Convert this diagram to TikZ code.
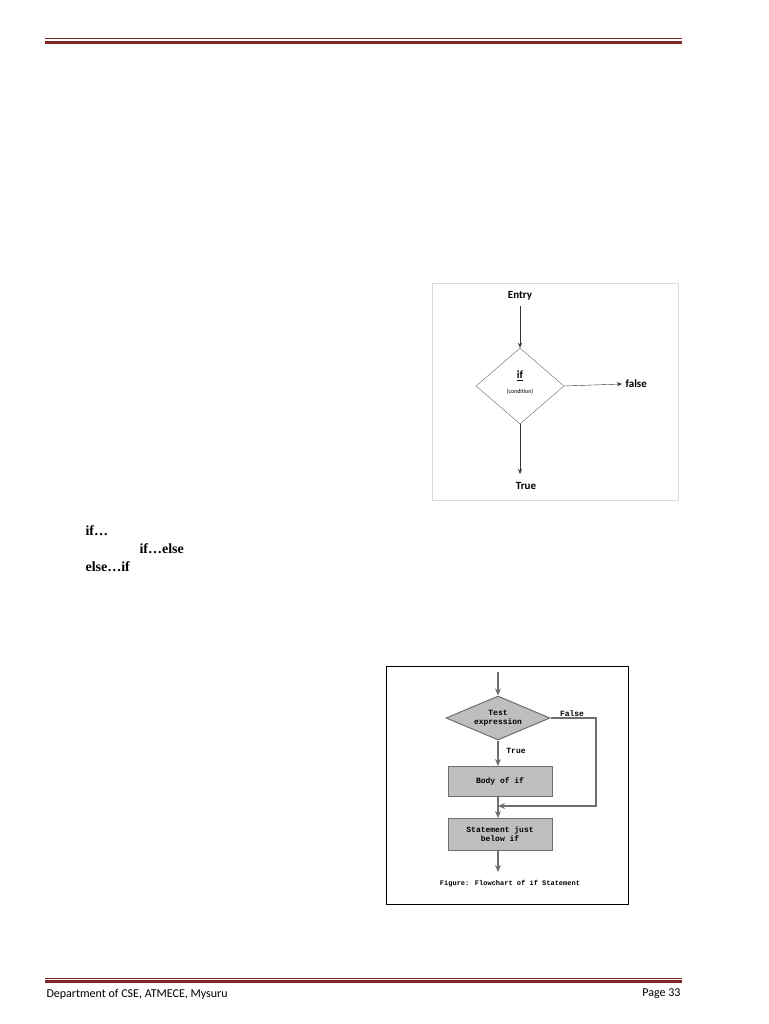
\documentclass[tikz,border=0pt]{standalone}
\usepackage{fontspec}
\setmainfont{Liberation Serif}
\newfontfamily\calfont{Carlito}
\newfontfamily\monofnt{Liberation Mono}
\usetikzlibrary{shapes.geometric,arrows.meta}
\definecolor{rulered}{RGB}{125,40,40}
\definecolor{boxgray}{RGB}{190,190,190}
\definecolor{lgray}{RGB}{110,110,110}
\begin{document}
\begin{tikzpicture}[x=1pt,y=-1pt,
  arr/.style={-{Stealth[length=5pt,width=4pt]},black!80},
  garr/.style={-{Stealth[length=7pt,width=6pt]},lgray,line width=1.2pt},
  gbox/.style={draw=lgray,fill=boxgray,line width=1pt,minimum width=104pt,font=\monofnt\bfseries\fontsize{8}{9}\selectfont,align=center,inner sep=1pt}]
\useasboundingbox (0,0) rectangle (768,1024);
% header rule
\draw[rulered,line width=1pt] (45,39) -- (682,39);
\draw[rulered,line width=2.5pt] (45,42.5) -- (682,42.5);
% footer rule
\draw[rulered,line width=1pt] (45,978) -- (682,978);
\draw[rulered,line width=2.5pt] (45,981.5) -- (682,981.5);
\node[anchor=west,font=\calfont\fontsize{12}{14}\selectfont] (dep) at (43,994) {Department of CSE, ATMECE, Mysuru};
\node[anchor=east,font=\calfont\fontsize{12}{14}\selectfont] (pg) at (684,994) {Page 33};
% list text
\node[anchor=west,font=\bfseries\fontsize{14}{16}\selectfont] (t1) at (82,531) {if…};
\node[anchor=west,font=\bfseries\fontsize{14}{16}\selectfont] (t2) at (136,549) {if…else};
\node[anchor=west,font=\bfseries\fontsize{14}{16}\selectfont] (t3) at (82,567) {else…if};
% flowchart 1
\draw[black!15,line width=1pt] (432,283) rectangle (678,500);
\node[font=\calfont\bfseries\fontsize{11}{13}\selectfont] (entry) at (520,296) {Entry};
\node[diamond,draw=black!60,minimum width=88pt,minimum height=76pt,inner sep=0pt] (d1) at (520,386) {};
\node[font=\calfont\bfseries\fontsize{11}{13}\selectfont] (ifl) at (520,376) {\underline{if}};
\node[font=\calfont\fontsize{6}{7}\selectfont] (cond) at (520,392) {(condition)};
\node[font=\calfont\bfseries\fontsize{11}{13}\selectfont,anchor=west] (false) at (622,384) {false};
\node[font=\calfont\bfseries\fontsize{11}{13}\selectfont] (true) at (526,486) {True};
\coordinate (tr) at (520,474);
\draw[arr] (entry) ++(0,10) -- (d1.north);
\draw[arr] (d1.east) -- (false.west);
\draw[arr] (d1.south) -- (tr);
% flowchart 2
\draw[black,line width=0.8pt] (386,666) rectangle (628,904);
\coordinate (s0) at (498,672);
\node[diamond,draw=lgray,fill=boxgray,line width=1pt,minimum width=104pt,minimum height=44pt,inner sep=0pt,aspect=2.36] (d2) at (498,718) {};
\node[font=\monofnt\bfseries\fontsize{8}{9}\selectfont,align=center] (te) at (498,718) {Test\\expression};
\node[gbox,minimum height=30pt] (body) at (500,781) {Body of if};
\node[gbox,minimum height=32pt] (stmt) at (500,834) {Statement just\\below if};
\coordinate (m) at (498,806);
\coordinate (c) at (596,718);
\coordinate (e) at (498,872);
\node[font=\monofnt\bfseries\fontsize{8}{9}\selectfont] (fl) at (572,714) {False};
\node[font=\monofnt\bfseries\fontsize{8}{9}\selectfont] (tl) at (516,751) {True};
\node[font=\monofnt\bfseries\fontsize{7}{8}\selectfont] (cap) at (510,884) {Figure: Flowchart of if Statement};
\draw[garr] (s0) -- (d2.north);
\draw[garr] (d2.south) -- (498,766);
\draw[lgray,line width=1.2pt] (498,796) -- (m);
\draw[garr] (m) -- (498,818);
\draw[garr] (d2.east) -- (c) -- (596,806) -- (m);
\draw[garr] (498,850) -- (e);
\end{tikzpicture}
\end{document}
